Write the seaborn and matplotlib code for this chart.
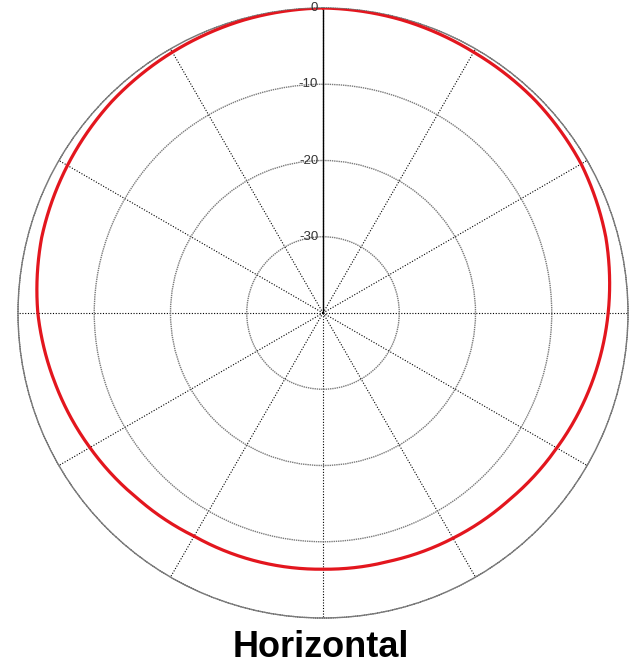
import numpy as np
import pandas as pd
import seaborn as sns
import matplotlib
matplotlib.use("Agg")
import matplotlib.pyplot as plt

# Radiation pattern (dB vs azimuth in degrees)
angles_deg = [0, 15, 30, 45, 60, 75, 90, 105, 120, 135, 150, 165, 180,
              195, 210, 225, 240, 255, 270, 285, 300, 315, 330, 345, 360]
gain_db = [0, -0.2, -0.5, -0.6, -0.9, -1.6, -2.6, -3.6, -4.6, -5.4, -5.9, -6.3, -6.4,
           -6.3, -6.2, -5.6, -4.7, -3.7, -2.6, -1.8, -1.3, -0.8, -0.5, -0.2, 0]
ring_levels = [-30, -20, -10]
ring_labels = ["0", "-10", "-20", "-30"]
label_levels = [0, -10, -20, -30]
spoke_angles = [0, 30, 60, 90, 120, 150, 180, 210, 240, 270, 300, 330]
title = "Horizontal"

df = pd.DataFrame({"theta": np.deg2rad(angles_deg), "gain": gain_db})

sns.set_style("white")
plt.rcParams["font.family"] = ["Liberation Sans", "DejaVu Sans"]

fig = plt.figure(figsize=(6.4, 6.68), dpi=100)
ax = fig.add_axes([18 / 640, 50 / 668, 610 / 640, 610 / 668], projection="polar")
ax.set_theta_zero_location("N")
ax.set_theta_direction(-1)
ax.set_rlim(-40, 0)

# grid: dotted spokes and gray dotted rings
ax.set_thetagrids(spoke_angles, labels=[""] * len(spoke_angles))
ax.set_rgrids(ring_levels, labels=[""] * len(ring_levels))
ax.xaxis.grid(True, color="black", linestyle=(0, (1, 1.5)), linewidth=0.8)
ax.yaxis.grid(True, color="#7a7a7a", linestyle=(0, (1, 0.6)), linewidth=1.0)
ax.spines["polar"].set_color("#7a7a7a")
ax.spines["polar"].set_linestyle((0, (1, 0.6)))
ax.spines["polar"].set_linewidth(1.0)

# solid reference line at 0 deg
ax.plot([0, 0], [-40, 0], color="black", linewidth=1.0, zorder=2)

sns.lineplot(data=df, x="theta", y="gain", ax=ax, color="#e3161e",
             linewidth=2.3, sort=False, zorder=3)
# let the polar transform bend the segments into arcs
pattern = ax.lines[-1]
pattern.get_path()._interpolation_steps = 60
pattern.recache_always()
ax.set_xlabel("")
ax.set_ylabel("")

for lvl, lab in zip(label_levels, ring_labels):
    ax.annotate(lab, xy=(0, lvl), xytext=(-3.5, 0), textcoords="offset points",
                ha="right", va="center", fontsize=9.5, color="#333333", zorder=4)

fig.text(0.502, 0.031, title, ha="center", va="center", fontsize=26,
         fontweight="bold", color="black")

fig.savefig("out.png", dpi=100)
